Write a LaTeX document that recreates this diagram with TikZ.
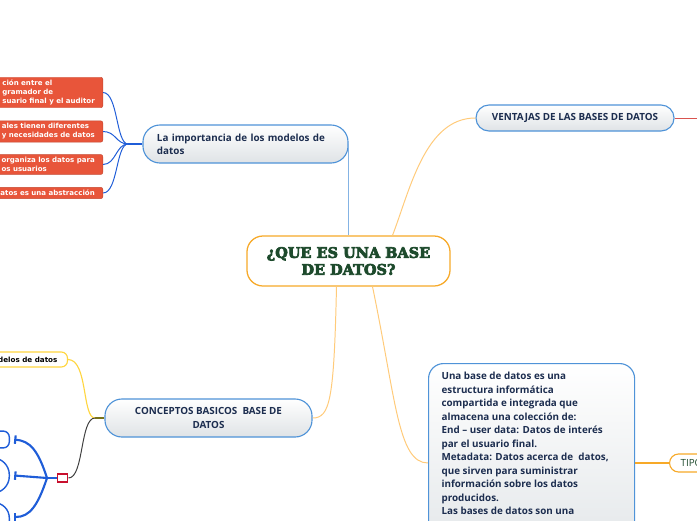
\documentclass[tikz,border=0pt]{standalone}
\usepackage{fontspec}
\setmainfont{Open Sans}
\newfontfamily\cajafont{DejaVu Sans}
\newfontfamily\titulofont[BoldFeatures={FakeBold=4.5}]{DejaVu Serif}
\usetikzlibrary{arrows.meta}
\definecolor{azuloscuro}{HTML}{1C2D4F}
\definecolor{bordeazul}{HTML}{4F93D8}
\definecolor{grisfondo}{HTML}{DFE3E6}
\definecolor{rojocaja}{HTML}{E8553A}
\definecolor{azulrama}{HTML}{1F5DD8}
\definecolor{naranjaclaro}{HTML}{FFCB7A}
\definecolor{naranja}{HTML}{F7A928}
\definecolor{verdetitulo}{HTML}{1D4A2C}
\definecolor{rojonudo}{HTML}{C8102E}
\definecolor{rojolinea}{HTML}{D9534F}
\definecolor{amarillo}{HTML}{FFD640}
\tikzset{
    tema/.style={draw=bordeazul, line width=0.8pt, top color=white, bottom color=grisfondo,
        text=azuloscuro, font=\fontsize{7}{9.3}\selectfont\bfseries},
    idea/.style={fill=rojocaja, draw=rojocaja!85!black, line width=0.3pt, rounded corners=0.05cm,
        text=white, align=left, anchor=east, inner xsep=0.2cm, inner ysep=0.07cm,
        font=\cajafont\fontsize{5}{6.3}\selectfont\bfseries},
    ramaazul/.style={draw=azulrama, line width=0.7pt},
    ramagruesa/.style={draw=azulrama, line width=1.5pt},
    subtema/.style={draw=azulrama, line width=1pt, fill=white, minimum width=1.2cm, anchor=east},
    ramanaranja/.style={draw=naranjaclaro, line width=0.7pt}
}
\begin{document}
\begin{tikzpicture}[x=0.025cm,y=-0.025cm]
            \clip (0,0) rectangle (697,520);
            \fill[white] (0,0) rectangle (697,520);

            \node[draw=naranja, line width=0.9pt, fill=white, rounded corners=0.4cm, minimum width=5.075cm,
                minimum height=1.25cm, align=center, text=verdetitulo,
                font=\titulofont\fontsize{10.3}{12}\selectfont\bfseries] (qbase) at (348.5,261) {¿QUE ES UNA BASE\\DE DATOS?};

            \node[tema, rounded corners=0.425cm, minimum width=5.125cm, minimum height=0.95cm,
                text width=4.425cm, align=left] (importancia) at (245.5,144) {La importancia de los modelos de\\datos};

            \node[tema, rounded corners=0.325cm, minimum width=4.95cm, minimum height=0.65cm]
                (ventajas) at (575,118) {VENTAJAS DE LAS BASES DE DATOS};
            \coordinate (ventajasfin) at (700,118);

            \node[tema, rounded corners=0.425cm, minimum width=5.175cm, minimum height=0.95cm,
                align=center] (conceptos) at (208.5,418) {CONCEPTOS BASICOS~ BASE DE\\DATOS};

            \node[tema, rounded corners=0.375cm, anchor=north west, inner xsep=0.325cm, inner ysep=0.22cm,
                font=\fontsize{7}{9.6}\selectfont\bfseries] (definicion) at (428,363)
                {\begin{minipage}[t][5cm][t]{4.5cm}\raggedright Una base de datos es una\\estructura informática\\compartida e integrada que\\almacena una colección de:\\End – user data: Datos de interés\\par el usuario final.\\Metadata: Datos acerca de~ datos,\\que sirven para suministrar\\información sobre los datos\\producidos.\\Las bases de datos son una\end{minipage}};

            \node[draw=naranja, line width=0.8pt, fill=white, rounded corners=0.225cm, anchor=west,
                minimum height=0.45cm, text width=1.5cm, inner xsep=0.275cm, align=left, text=verdetitulo,
                font=\fontsize{7}{9}\selectfont] (tipos) at (669,463) {TIPO};

            % ideas de la importancia de los modelos
            \node[idea] (imp1) at (103,92.5) {ción entre el\\gramador de\\suario final y el auditor};
            \node[idea] (imp2) at (103,131.5) {ales tienen diferentes\\y necesidades de datos};
            \node[idea] (imp3) at (103,164.5) {organiza los datos para\\os usuarios};
            \node[idea] (imp4) at (103,193) {atos es una abstracción};

            % ramas de los conceptos basicos
            \node[draw=amarillo, line width=0.8pt, fill=white, rounded corners=0.15cm, anchor=east,
                minimum height=0.35cm, inner xsep=0.25cm, text=black,
                font=\cajafont\fontsize{5.1}{6}\selectfont\bfseries] (modelos) at (68,359.5) {delos de datos};
            \node[draw=rojonudo, line width=1.4pt, fill=white, minimum width=0.25cm, minimum height=0.22cm,
                inner sep=0pt] (nudo) at (62.5,478) {};
            \node[subtema, rounded corners=0.15cm, minimum height=0.42cm] (sub1) at (10,439.5) {};
            \node[subtema, rounded corners=0.42cm, minimum height=0.88cm] (sub2) at (10,475.5) {};
            \node[subtema, rounded corners=0.38cm, minimum height=1.1cm, anchor=north east] (sub3) at (10,502) {};

            \draw[draw=bordeazul!70, line width=0.8pt] (importancia.east) -- (importancia.east |- qbase.north);
            \draw[ramanaranja] ([xshift=1.1cm]qbase.north) .. controls (410,190) and (425,118) .. (ventajas.west);
            \draw[draw=rojolinea, line width=0.6pt] (ventajas.east) -- (ventajasfin);
            \draw[ramanaranja] ([xshift=-0.3cm]qbase.south) .. controls (334,400) and (330,418) .. (conceptos.east);
            \draw[ramanaranja] ([xshift=0.6cm]qbase.south) .. controls (396,400) and (398,463) .. (definicion.west |- tipos.west);
            \draw[draw=naranja, line width=0.8pt] (definicion.east |- tipos.west) -- (tipos.west);

            \draw[ramagruesa] (importancia.west) -- (128,144);
            \draw[ramaazul] (128,144) .. controls (116,144) and (118,92.5) .. (imp1.east);
            \draw[ramaazul] (128,144) .. controls (116,144) and (116,131.5) .. (imp2.east);
            \draw[ramaazul] (128,144) .. controls (116,144) and (116,164.5) .. (imp3.east);
            \draw[ramaazul] (128,144) .. controls (116,144) and (118,193) .. (imp4.east);

            \draw[draw=olive!80!black, line width=1pt] (conceptos.west) -- (95,418);
            \draw[draw=amarillo, line width=0.8pt] (95,418) .. controls (82,418) and (88,359.5) .. (modelos.east);
            \draw[draw=black!75, line width=0.7pt] (95,418) .. controls (80,418) and (84,478) .. (nudo.east);

            \draw[ramagruesa] (nudo.west) -- (47,478);
            \draw[ramagruesa, -{Bar[width=6pt]}] (47,478) .. controls (38,450) and (30,441) .. ([xshift=3pt]sub1.east);
            \draw[ramagruesa, -{Bar[width=6pt]}] (47,478) -- ([xshift=3pt]sub2.east);
            \draw[ramagruesa, -{Bar[width=6pt]}] (47,478) .. controls (38,505) and (30,517) .. ([xshift=3pt]sub3.east |- 0,517);
        \end{tikzpicture}
\end{document}
